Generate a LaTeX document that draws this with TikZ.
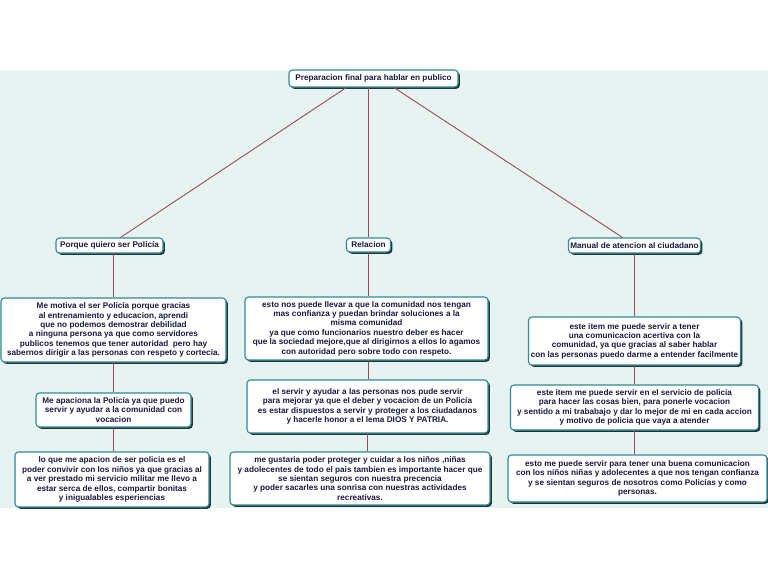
\documentclass[tikz,border=0pt]{standalone}
\usepackage{fontspec}
\setmainfont{Liberation Sans}
\usepackage{tikz}
\usetikzlibrary{calc, shadows}
\definecolor{mapbg}{HTML}{E6F3F0}
\definecolor{mapborder}{HTML}{2E8B94}
\definecolor{mapshadow}{HTML}{1F3538}
\definecolor{maptext}{HTML}{1A1A40}
\definecolor{mapline}{HTML}{9A4A5A}
\tikzset{
    mapnode/.style={rectangle, rounded corners=3.5pt, fill=white, draw=mapborder, line width=1.1pt,
        align=center, inner sep=1.5pt, text=maptext, font=\fontsize{8.2}{9.4}\selectfont\bfseries,
        drop shadow={shadow xshift=1.8pt, shadow yshift=-1.8pt, fill=mapshadow, opacity=1}},
    maplink/.style={draw=mapline, line width=0.9pt}
}

\begin{document}
\begin{tikzpicture}[x=1pt, y=-1pt]
    \useasboundingbox (0,0) rectangle (768,578);
    \fill[mapbg] (0,70) rectangle (768,508);

    % Root and topics
    \node[mapnode, minimum width=169pt, minimum height=17pt] (title) at (373.5,78.5) {Preparacion final para hablar en publico};
    \node[mapnode, minimum width=107pt, minimum height=15pt] (porque) at (109.5,245.5) {Porque quiero ser Policía};
    \node[mapnode, minimum width=44pt, minimum height=14pt] (relacion) at (368.5,245) {Relacion};
    \node[mapnode, minimum width=132pt, minimum height=15pt] (manual) at (634.5,245.5) {Manual de atencion al ciudadano};

    % Left column
    \node[mapnode, minimum width=225pt, minimum height=64pt] (l1) at (113.5,330) {Me motiva el ser Policía porque gracias\\al entrenamiento y educacion, aprendi\\que no podemos demostrar debilidad\\a ninguna persona ya que como servidores\\publicos tenemos que tener autoridad\ \ pero hay\\sabernos dirigir a las personas con respeto y cortecia.};
    \node[mapnode, minimum width=155pt, minimum height=34pt] (l2) at (113.5,410) {Me apaciona la Policía ya que puedo\\servir y ayudar a la comunidad con\\vocacion};
    \node[mapnode, minimum width=194pt, minimum height=55pt] (l3) at (112,479.5) {lo que me apacion de ser policia es el\\poder convivir con los niños ya que gracias al\\a ver prestado mi servicio militar me llevo a\\estar serca de ellos, compartir bonitas\\y inigualables esperiencias};

    % Middle column
    \node[mapnode, minimum width=243pt, minimum height=63pt] (m1) at (366.5,328.5) {esto nos puede llevar a que la comunidad nos tengan\\mas confianza y puedan brindar soluciones a la\\misma comunidad\\ya que como funcionarios nuestro deber es hacer\\que la sociedad mejore,que al dirigirnos a ellos lo agamos\\con autoridad pero sobre todo con respeto.};
    \node[mapnode, minimum width=241pt, minimum height=53pt] (m2) at (367.5,406.5) {el servir y ayudar a las personas nos pude servir\\para mejorar ya que el deber y vocacion de un Policía\\es estar dispuestos a servir y proteger a los ciudadanos\\y hacerle honor a el lema DIOS Y PATRIA.};
    \node[mapnode, minimum width=260pt, minimum height=53pt] (m3) at (360,478.5) {me gustaria poder proteger y cuidar a los niños ,niñas\\y adolecentes de todo el pais tambien es importante hacer que\\se sientan seguros con nuestra precencia\\y poder sacarles una sonrisa con nuestras actividades\\recreativas.};

    % Right column
    \node[mapnode, minimum width=212pt, minimum height=48pt] (r1) at (634.5,341) {este item me puede servir a tener\\una comunicacion acertiva con la\\comunidad, ya que gracias al saber hablar\\con las personas puedo darme a entender facilmente};
    \node[mapnode, minimum width=248pt, minimum height=45pt] (r2) at (634.5,407.5) {este item me puede servir en el servicio de policia\\para hacer las cosas bien, para ponerle vocacion\\y sentido a mi trababajo y dar lo mejor de mi en cada accion\\y motivo de policia que vaya a atender};
    \node[mapnode, minimum width=259pt, minimum height=47pt] (r3) at (637.5,478.5) {esto me puede servir para tener una buena comunicacion\\con los niños niñas y adolecentes a que nos tengan confianza\\y se sientan seguros de nosotros como Policías y como\\personas.};

    % Links
    \draw[maplink] ($(title.south)!0.32!(title.south west)$) -- ($(porque.north)+(11,0)$);
    \draw[maplink] (title.south -| relacion.north) -- (relacion.north);
    \draw[maplink] ($(title.south)!0.24!(title.south east)$) -- ($(manual.north)+(-12,0)$);
    \draw[maplink] (porque.south -| l1.north) -- (l1.north);
    \draw[maplink] (l1) -- (l2);
    \draw[maplink] (l2.south) -- (l2.south |- l3.north);
    \draw[maplink] (relacion.south) -- (relacion.south |- m1.north);
    \draw[maplink] (m2.north -| relacion.south) -- (m1.south -| relacion.south);
    \draw[maplink] (m2.south) -- (m2.south |- m3.north);
    \draw[maplink] (manual) -- (r1);
    \draw[maplink] (r1) -- (r2);
    \draw[maplink] (r2.south) -- (r2.south |- r3.north);
\end{tikzpicture}
\end{document}
